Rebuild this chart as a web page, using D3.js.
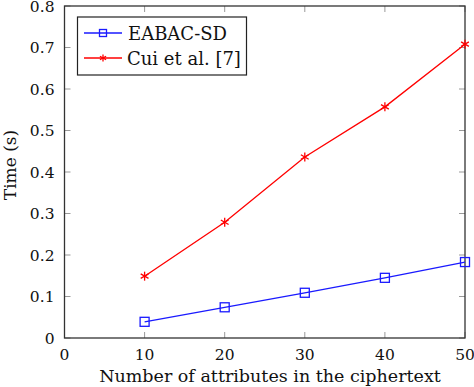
<!DOCTYPE html>
<html><head><meta charset="utf-8">
<script src="https://cdn.jsdelivr.net/npm/d3@7"></script>
<style>body{margin:0;background:#fff}svg{display:block}text{font-family:"DejaVu Serif",serif;fill:#111}</style>
</head><body><svg id="c" width="474" height="387"></svg>
<script>
const xs = [10, 20, 30, 40, 50];
const eabac = [0.039, 0.074, 0.109, 0.145, 0.183];
const cui = [0.149, 0.279, 0.436, 0.557, 0.708];
const xTicks = [0, 10, 20, 30, 40, 50];
const yTicks = [0, 0.1, 0.2, 0.3, 0.4, 0.5, 0.6, 0.7, 0.8];
const seriesNames = ["EABAC-SD", "Cui et al. [7]"];

const svg = d3.select("#c");
const L = 64.5, R = 465, T = 6, B = 338;
const x = d3.scaleLinear().domain([0, 50]).range([L, R]);
const y = d3.scaleLinear().domain([0, 0.8]).range([B, T]);
const fmt = d => d === 0 ? "0" : d.toString();

const tl = 6;
const g = svg.append("g");
xTicks.forEach(t => {
  g.append("line").attr("x1", x(t)).attr("x2", x(t)).attr("y1", B).attr("y2", B - tl).attr("stroke", "#999").attr("stroke-width", 1);
  g.append("line").attr("x1", x(t)).attr("x2", x(t)).attr("y1", T).attr("y2", T + tl).attr("stroke", "#999").attr("stroke-width", 1);
  g.append("text").attr("x", x(t)).attr("y", B + 22).attr("text-anchor", "middle").attr("font-size", 15.5).text(fmt(t));
});
yTicks.forEach(t => {
  g.append("line").attr("x1", L).attr("x2", L + tl).attr("y1", y(t)).attr("y2", y(t)).attr("stroke", "#999").attr("stroke-width", 1);
  g.append("line").attr("x1", R).attr("x2", R - tl).attr("y1", y(t)).attr("y2", y(t)).attr("stroke", "#999").attr("stroke-width", 1);
  g.append("text").attr("x", L - 10).attr("y", y(t) + 5.5).attr("text-anchor", "end").attr("font-size", 15.5).text(fmt(t));
});
g.append("rect").attr("x", L).attr("y", T).attr("width", R - L).attr("height", B - T).attr("fill", "none").attr("stroke", "#333").attr("stroke-width", 1.3);

const line = d3.line().x((d, i) => x(xs[i])).y(d => y(d));
const blue = "#1a1aff", red = "#ff0000";
svg.append("path").datum(eabac).attr("d", line).attr("fill", "none").attr("stroke", blue).attr("stroke-width", 1.3);
svg.append("path").datum(cui).attr("d", line).attr("fill", "none").attr("stroke", red).attr("stroke-width", 1.3);

function square(cx, cy, s) {
  svg.append("rect").attr("x", cx - s / 2).attr("y", cy - s / 2).attr("width", s).attr("height", s).attr("fill", "none").attr("stroke", blue).attr("stroke-width", 1.3);
}
function star(cx, cy, r) {
  for (let k = 0; k < 3; k++) {
    const a = Math.PI / 2 + k * Math.PI / 3;
    svg.append("line").attr("x1", cx + r * Math.cos(a)).attr("y1", cy - r * Math.sin(a)).attr("x2", cx - r * Math.cos(a)).attr("y2", cy + r * Math.sin(a)).attr("stroke", red).attr("stroke-width", 1.3);
  }
}
eabac.forEach((v, i) => square(x(xs[i]), y(v), 9));
cui.forEach((v, i) => star(x(xs[i]), y(v), 4.5));

const lg = svg.append("g");
lg.append("rect").attr("x", 77.5).attr("y", 17).attr("width", 169).attr("height", 58).attr("fill", "#fff").attr("stroke", "#222").attr("stroke-width", 1.2);
svg.append("line").attr("x1", 84).attr("x2", 122).attr("y1", 33).attr("y2", 33).attr("stroke", blue).attr("stroke-width", 1.3);
square(103, 33, 7);
svg.append("line").attr("x1", 84).attr("x2", 122).attr("y1", 58).attr("y2", 58).attr("stroke", red).attr("stroke-width", 1.3);
star(103, 58, 3.5);
svg.append("text").attr("x", 128).attr("y", 39.5).attr("font-size", 18).text(seriesNames[0]);
svg.append("text").attr("x", 127).attr("y", 64.5).attr("font-size", 18).text(seriesNames[1]);

svg.append("text").attr("x", 270).attr("y", 382).attr("text-anchor", "middle").attr("font-size", 17.5).text("Number of attributes in the ciphertext");
svg.append("text").attr("transform", `translate(16,165) rotate(-90)`).attr("text-anchor", "middle").attr("font-size", 17).text("Time (s)");
</script></body></html>
